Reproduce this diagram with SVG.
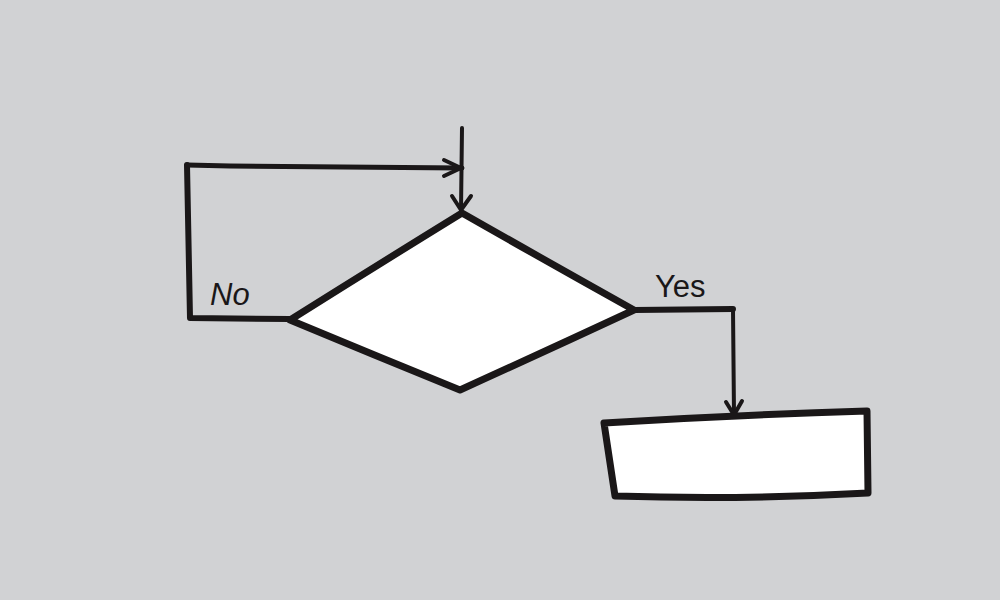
<svg xmlns="http://www.w3.org/2000/svg" width="1000" height="600" viewBox="0 0 1000 600">
<style>
.ln{fill:none;stroke:#1a1718;stroke-linecap:round;stroke-linejoin:round}
.thin{stroke-width:4}
.mid{stroke-width:5}
.thick{stroke-width:6}
.shape{fill:#ffffff;stroke:#1a1718;stroke-width:7;stroke-linejoin:round}
.lbl{font-family:"Liberation Sans","DejaVu Sans",sans-serif;font-size:31px;fill:#1a1718}
</style>
<rect x="0" y="0" width="1000" height="600" fill="#d1d2d4"/>
<g id="connectors">
<path class="ln thin" d="M462,128 L461,210"/>
<path class="ln thin" d="M452,196 L461,210 L471,196"/>
<path class="ln thick" d="M290,319 L190,318 L187,165"/>
<path class="ln mid" d="M187,165 L230,166 L462,168"/>
<path class="ln thin" d="M444,160 L461,168 L444,176"/>
<path class="ln thick" d="M634,310 L733,309"/>
<path class="ln thin" d="M733,309 L734,415"/>
<path class="ln thin" d="M726,402 L734,415 L742,401"/>
</g>
<g id="decision">
<path class="shape" d="M462,213 Q548,262 634,310 Q548,350 460,390 Q374,355 290,320 Q376,266 462,213 Z"/>
</g>
<g id="process">
<path class="shape" d="M604,423 Q736,415 867,411 L868,493 Q741,500 615,496 Z"/>
</g>
<g id="labels">
<text class="lbl" x="210" y="305" font-style="italic">No</text>
<text class="lbl" x="655" y="297">Yes</text>
</g>
</svg>
